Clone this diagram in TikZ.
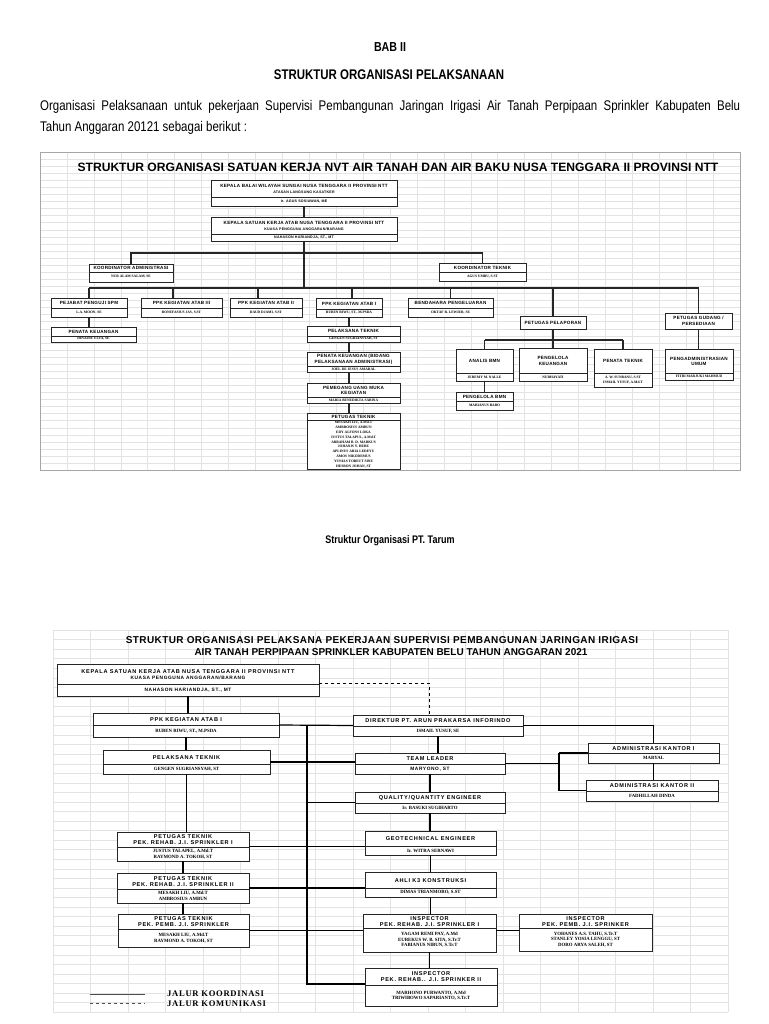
\documentclass[tikz,border=0pt]{standalone}
\usepackage{fontspec}
\setmainfont{Liberation Sans}
\newfontfamily\narrowf[FakeStretch=0.82]{Liberation Sans}
\newfontfamily\serift{Liberation Serif}
\newfontfamily\spsA[LetterSpace=6]{Liberation Sans}
\newfontfamily\spsB[LetterSpace=13]{Liberation Sans}
\newfontfamily\spsT[LetterSpace=4]{Liberation Sans}
\newfontfamily\spsL[LetterSpace=8]{Liberation Serif}
\newcommand\cAhead{\fontsize{4.6}{5.4}\selectfont\spsA\bfseries}
\newcommand\cAsub{\fontsize{3.6}{4.4}\selectfont\spsA\bfseries}
\newcommand\cAname{\fontsize{3.6}{4.8}\selectfont\serift\bfseries}
\newcommand\cBhead{\fontsize{5.6}{5.9}\selectfont\spsB\bfseries}
\newcommand\cBsub{\fontsize{4.8}{5.6}\selectfont\spsB\bfseries}
\newcommand\cBname{\fontsize{4.8}{5.5}\selectfont\serift\bfseries}
\newcommand\orgbox[8]{%
  \pgfmathsetmacro\obw{#4-#2}%
  \pgfmathsetmacro\obh{#5-#3}%
  \node[obox,minimum width=\obw pt,minimum height=\obh pt] (#1) at ({(#2+#4)/2},{(#3+#5)/2}) {};
  \draw[divl] (#2,#6) -- (#4,#6);
  \node[otxt,ttop] (#1-t) at ({(#2+#4)/2},{(#3+#6)/2+0.4}) {#7};
  \node[otxt,tnam] (#1-b) at ({(#2+#4)/2},{(#6+#5)/2}) {#8};
}
\newcommand\onebox[6]{%
  \pgfmathsetmacro\obw{#4-#2}%
  \pgfmathsetmacro\obh{#5-#3}%
  \node[obox,minimum width=\obw pt,minimum height=\obh pt] (#1) at ({(#2+#4)/2},{(#3+#5)/2}) {};
  \node[otxt,ttop] (#1-t) at ({(#2+#4)/2},{(#3+#5)/2}) {#6};
}
\begin{document}
\begin{tikzpicture}[x=1pt,y=-1pt,
  grid/.style={draw=gray!22,line width=0.4pt},
  obox/.style={draw=black!85,fill=white,line width=0.8pt,inner sep=0pt,outer sep=0pt},
  divl/.style={draw=black!85,line width=0.6pt},
  otxt/.style={inner sep=0pt,align=center,text=black},
  ttop/.style={font=\cAhead},
  tnam/.style={font=\cAname},
  conn/.style={draw=black!85,line width=1.2pt},
  conb/.style={draw=black,line width=1.2pt},
]
\useasboundingbox (0,0) rectangle (768,1024);
\fill[white] (0,0) rectangle (768,1024);

% ---------- page text ----------
\node[inner sep=0pt,anchor=base,font=\narrowf\bfseries\fontsize{13}{15}\selectfont] (bab) at (390,52) {BAB II};
\node[inner sep=0pt,anchor=base,font=\narrowf\bfseries\fontsize{14}{16}\selectfont] (judul) at (389,80) {STRUKTUR ORGANISASI PELAKSANAAN};
\node[inner sep=0pt,anchor=base west,font=\narrowf\fontsize{14}{16}\selectfont] (body1) at (40,111)
  {\makebox[700pt][s]{Organisasi Pelaksanaan untuk pekerjaan Supervisi Pembangunan Jaringan Irigasi Air Tanah Perpipaan Sprinkler Kabupaten Belu}};
\node[inner sep=0pt,anchor=base west,font=\narrowf\fontsize{14}{16}\selectfont] (body2) at (40,132)
  {Tahun Anggaran 20121 sebagai berikut :};

% ---------- chart 1 ----------
\foreach \i in {0,...,26} {\draw[grid] ({40+\i*26.92},152) -- ({40+\i*26.92},470);}
\foreach \j in {0,...,45} {\draw[grid] (40,{152+\j*7.07}) -- (740,{152+\j*7.07});}
\draw[draw=gray!70,line width=0.9pt] (40,152) rectangle (740,470);
\node[inner sep=0pt,font=\bfseries\fontsize{12.1}{14}\selectfont] (t1) at (398,167)
  {STRUKTUR ORGANISASI SATUAN KERJA NVT AIR TANAH DAN AIR BAKU NUSA TENGGARA II PROVINSI NTT};

\orgbox{kb}{211}{180}{397}{206}{197}{KEPALA BALAI WILAYAH SUNGAI NUSA TENGGARA II PROVINSI NTT\\\cAsub ATASAN LANGSUNG KASATKER}{\cAsub Ir. AGUS SOSIAWAN, ME}
\orgbox{ks}{211}{217}{397}{241}{234}{KEPALA SATUAN KERJA ATAB NUSA TENGGARA II PROVINSI NTT\\\cAsub KUASA PENGGUNA ANGGARAN/BARANG}{\cAsub NAHASON HARIANDJA, ST., MT}
\orgbox{koA}{89}{264}{173}{282}{272}{KOORDINATOR ADMINISTRASI}{NUR ALAM SALAM, SE}
\orgbox{koT}{439}{263}{526}{281}{272}{KOORDINATOR TEKNIK}{AGUS UMBU, S.ST}
\orgbox{pj}{51}{298}{127}{317}{308}{PEJABAT PENGUJI SPM}{L.A. MOON, SE}
\orgbox{pthree}{141}{298}{222}{317}{308}{PPK KEGIATAN ATAB III}{BONEFASIUS JAS, S.ST}
\orgbox{ptwo}{230}{298}{302}{317}{308}{PPK KEGIATAN ATAB II}{DAUD DJAMI, S.ST}
\orgbox{pone}{316}{298}{382}{317}{309}{PPK KEGIATAN ATAB I}{RUBEN RIWU, ST., M.PSDA}
\orgbox{bd}{408}{298}{493}{317}{308}{BENDAHARA PENGELUARAN}{OKTAF R. LEWIER, SE}
\onebox{pl}{520}{316}{586}{329}{PETUGAS PELAPORAN}
\onebox{gd}{665}{313}{732}{329}{PETUGAS GUDANG /\\PERSEDIAAN}
\orgbox{pk}{51}{327}{136}{342}{336}{PENATA KEUANGAN}{DINAINE ULVA, SE}
\orgbox{lt}{307}{326}{400}{342}{336}{PELAKSANA TEKNIK}{GENGEN SUGRIANSYAH, ST}
\orgbox{pka}{307}{352}{400}{372}{366}{PENATA KEUANGAN (BIDANG\\PELAKSANAAN ADMINISTRASI)}{JOEL DE JESUS AMARAL}
\orgbox{pum}{307}{383}{400}{403}{397}{PEMEGANG UANG MUKA\\KEGIATAN}{MARIA BENEDIKTA SABINA}
\orgbox{ptk}{307}{413}{400}{469}{420}{PETUGAS TEKNIK}{MESAKH LIU, A.Md.T\\AMBROSIUS AMBUN\\EDY ALFONS LOKA\\JUSTUS TALAPUL, A.Md.T\\ABRAHAM B. D. MARKUS\\JOHANIS Y. HERE\\APLINUS ARIA LEDEYU\\AMOS NIKODEMUS\\YUNIAS TOBEUT SINE\\HESRON JOHAN, ST}
\orgbox{an}{456}{349}{513}{381}{373}{ANALIS BMN}{JEREMY M. NALLE}
\orgbox{pku}{519}{348}{587}{381}{373}{PENGELOLA\\KEUANGAN}{NURHAYATI}
\orgbox{pt}{594}{349}{652}{387}{373}{PENATA TEKNIK}{A. W. SUNBANU, S.ST\\ISMAIL YUSUF, A.Md.T}
\orgbox{pa}{665}{349}{733}{380}{373}{PENGADMINISTRASIAN\\UMUM}{FITRI MARJUKI MAHMUD}
\orgbox{pb}{456}{392}{513}{410}{401}{PENGELOLA BMN}{MARIANUS BABO}

\coordinate (kbar) at (0,253);
\coordinate (bar) at (0,288);
\coordinate (bar2) at (0,340);
\coordinate (dthree) at (173,288);
\coordinate (dtwo) at (258,288);
\coordinate (done) at (352,288);
\draw[conn] (kb.south) -- (kb.south |- ks.north);
\draw[conn] (ks.south) -- (ks.south |- bar);
\draw[conn] (koA.north) -- (koA.north |- kbar) -- (koT.north |- kbar) -- (koT.north);
\draw[conn] (pj.north |- bar) -- (gd.north |- bar);
\draw[conn] (pj.north |- bar) -- (pj.north);
\draw[conn] (dthree) -- (dthree |- pthree.north);
\draw[conn] (dtwo) -- (dtwo |- ptwo.north);
\draw[conn] (done) -- (done |- pone.north);
\draw[conn] (bd.north |- bar) -- (bd.north);
\draw[conn] (pl.north |- bar) -- (pl.north);
\draw[conn] (gd.north |- bar) -- (gd.north);
\draw[conn] (pj.south) -- (pj.south |- pk.north);
\draw[conn] (pone.south) -- (pone.south |- lt.north);
\draw[conn] (pone.south |- lt.south) -- (pone.south |- pka.north);
\draw[conn] (pone.south |- pka.south) -- (pone.south |- pum.north);
\draw[conn] (pone.south |- pum.south) -- (pone.south |- ptk.north);
\draw[conn] (pl.south) -- (pl.south |- bar2);
\draw[conn] (an.north |- bar2) -- (pt.north |- bar2);
\draw[conn] (an.north |- bar2) -- (an.north);
\draw[conn] (pku.north |- bar2) -- (pku.north);
\draw[conn] (pt.north |- bar2) -- (pt.north);
\draw[conn] (an.south) -- (pb.north);
\draw[conn] (gd.south) -- (gd.south |- pa.north);

\node[inner sep=0pt,font=\narrowf\bfseries\fontsize{11}{13}\selectfont] (cap) at (390,541) {Struktur Organisasi PT. Tarum};

% ---------- chart 2 ----------
\foreach \i in {0,...,18} {\draw[grid] ({53+\i*37.5},630) -- ({53+\i*37.5},1012);}
\foreach \j in {0,...,40} {\draw[grid] (53,{630+\j*9.55}) -- (728,{630+\j*9.55});}
\node[inner sep=0pt,font=\spsT\bfseries\fontsize{10}{12}\selectfont] (t2a) at (382,640)
  {STRUKTUR ORGANISASI PELAKSANA PEKERJAAN SUPERVISI PEMBANGUNAN JARINGAN IRIGASI};
\node[inner sep=0pt,font=\bfseries\fontsize{10}{12}\selectfont] (t2b) at (391,652)
  {AIR TANAH PERPIPAAN SPRINKLER KABUPATEN BELU TAHUN ANGGARAN 2021};

\tikzset{ttop/.style={font=\cBhead},tnam/.style={font=\cBname}}
\orgbox{ksb}{57}{664}{319}{696}{684}{KEPALA SATUAN KERJA ATAB NUSA TENGGARA II PROVINSI NTT\\\cBsub KUASA PENGGUNA ANGGARAN/BARANG}{\cBsub NAHASON HARIANDJA, ST., MT}
\orgbox{ppb}{93}{713}{279}{737}{725}{PPK KEGIATAN ATAB I}{RUBEN RIWU, ST., M.PSDA}
\orgbox{dir}{353}{715}{523}{736}{726}{DIREKTUR PT. ARUN PRAKARSA INFORINDO}{ISMAIL YUSUF, SE}
\orgbox{pel}{103}{750}{270}{774}{764}{PELAKSANA TEKNIK}{GENGEN SUGRIANSYAH, ST}
\orgbox{tl}{355}{753}{505}{774}{764}{TEAM LEADER}{\cBsub MARYONO, ST}
\orgbox{aone}{588}{743}{719}{763}{753}{ADMINISTRASI KANTOR I}{MARYAL}
\orgbox{atwo}{586}{780}{718}{801}{791}{ADMINISTRASI KANTOR II}{FADHILLAH DINDA}
\orgbox{qc}{355}{792}{505}{813}{803}{QUALITY/QUANTITY ENGINEER}{Ir. BASUKI SUGIHARTO}
\orgbox{ge}{365}{831}{496}{855}{846}{GEOTECHNICAL ENGINEER}{Ir. WITRA SERNAWI}
\orgbox{kk}{365}{872}{496}{897}{888}{AHLI K3 KONSTRUKSI}{DIMAS TRIANMORO, S.ST}
\orgbox{ione}{363}{914}{496}{952}{928}{INSPECTOR\\PEK. REHAB. J.I. SPRINKLER I}{YAGAM REMI PAY, A.Md\\EUREKUS W. B. SITA, S.Tr.T\\FABIANUS NIBUN, S.Tr.T}
\orgbox{ipm}{519}{914}{652}{951}{928}{INSPECTOR\\PEK. PEMB. J.I. SPRINKER}{YOHANES A.S. TAHU, S.Tr.T\\STANLEY YOSIA LENGGU, ST\\DORO ARYA SALEH, ST}
\orgbox{itwo}{365}{968}{497}{1006}{985}{INSPECTOR\\PEK. REHAB.. J.I. SPRINKER II}{MARHONO PURWANTO, A.Md\\TRIWIBOWO SAPARIANTO, S.Tr.T}
\orgbox{ptone}{117}{832}{249}{861}{847}{PETUGAS TEKNIK\\PEK. REHAB. J.I. SPRINKLER I}{JUSTUS TALAPEL, A.Md.T\\RAYMOND A. TOKOH, ST}
\orgbox{pttwo}{117}{873}{249}{903}{889}{PETUGAS TEKNIK\\PEK. REHAB. J.I. SPRINKLER II}{MESAKH LIU, A.Md.T\\AMBROSIUS AMBUN}
\orgbox{ptthree}{118}{914}{249}{947}{929}{PETUGAS TEKNIK\\PEK. PEMB. J.I. SPRINKLER}{MESAKH LIU, A.Md.T\\RAYMOND A. TOKOH, ST}

\coordinate (dc) at (429,683);
\coordinate (trt) at (307,725);
\coordinate (trb) at (307,984);
\coordinate (trq) at (307,802.5);
\coordinate (tv) at (559,0);
\draw[conb,dashed,line width=0.8pt] (ksb.east |- dc) -- (dc) -- (dc |- dir.north);
\draw[conb] (ksb.south) -- (ksb.south |- ppb.north);
\draw[conb] (ppb.east) -- (dir.west);
\draw[conb] (dir.east) -| (aone.north);
\draw[conb] (aone.south) -- (aone.south |- atwo.north);
\draw[conb] (trt) -- (trb) -- (trb -| itwo.west);
\draw[conb] (trq) -- (qc.west);
\draw[conb] (ppb.south) -- (ppb.south |- pel.north);
\draw[conb] (pel.east) -- (pel.east -| tl.west);
\draw[conb] (tl.east) -- (tl.east -| tv);
\draw[conb] (aone.west -| tv) -- (atwo.west -| tv);
\draw[conb] (aone.west -| tv) -- (aone.west);
\draw[conb] (atwo.west -| tv) -- (atwo.west);
\draw[conb] (dir.south) -- (dir.south |- tl.north);
\draw[conb] (tl.south) -- (tl.south |- qc.north);
\draw[conb] (qc.south) -- (qc.south |- ge.north);
\draw[conb] (ge.south) -- (ge.south |- kk.north);
\draw[conb] (kk.south) -- (kk.south |- ione.north);
\draw[conb] (ione.south) -- (ione.south |- itwo.north);
\draw[conb] (pel.south) -- (pel.south |- ptone.north);
\draw[conb] (ptone.south) -- (ptone.south |- pttwo.north);
\draw[conb] (pttwo.south) -- (pttwo.south |- ptthree.north);
\draw[conb] (ptone.east) -- (ptone.east -| ge.west);
\draw[conb] (pttwo.east) -- (pttwo.east -| kk.west);
\draw[conb] (ptthree.east) -- (ptthree.east -| ione.west);
\draw[conb] (ione.east |- ptthree.east) -- (ipm.west |- ptthree.east);

% legend
\coordinate (lsa) at (90,994);
\coordinate (lsb) at (145,994);
\coordinate (lda) at (90,1003);
\coordinate (ldb) at (145,1003);
\draw[draw=black!70,line width=0.8pt] (lsa) -- (lsb);
\draw[draw=black!70,line width=0.8pt,dashed] (lda) -- (ldb);
\node[inner sep=0pt,anchor=west,font=\spsL\bfseries\fontsize{8.6}{9}\selectfont] (lk) at (167,994) {JALUR KOORDINASI};
\node[inner sep=0pt,anchor=west,font=\spsL\bfseries\fontsize{8.6}{9}\selectfont] (lm) at (167,1004) {JALUR KOMUNIKASI};
\end{tikzpicture}
\end{document}
